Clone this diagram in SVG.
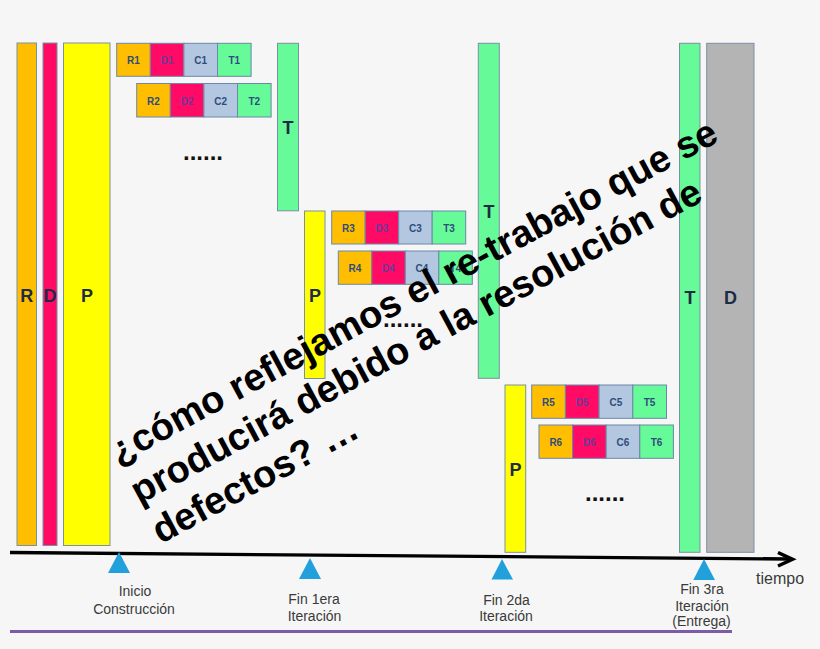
<svg xmlns="http://www.w3.org/2000/svg" width="820" height="649" viewBox="0 0 820 649">
<style>
.bar{stroke:#7b8fa6;stroke-width:1}
.cell{stroke:#6a88a8;stroke-width:1}
.r{fill:#ffbf00}.d{fill:#ff0a64}.c{fill:#b4c7e0}.t{fill:#66fb98}.p{fill:#ffff00}.g{fill:#b4b4b4}
.bl{font-family:"Liberation Sans",Arial,sans-serif;font-weight:bold;font-size:18px;fill:#1d2b45;text-anchor:middle}
.cl{font-family:"Liberation Sans",Arial,sans-serif;font-weight:bold;font-size:10px;fill:#2f4d7c;text-anchor:middle}
.cd{fill:#6b3a98}
.dots{font-family:"Liberation Sans",Arial,sans-serif;font-weight:bold;font-size:24px;fill:#111}
.lab{font-family:"Liberation Sans",Arial,sans-serif;font-size:14px;fill:#3a3a3a;text-anchor:middle}
.tri{fill:#22a0dc}
.big{font-family:"Liberation Sans",Arial,sans-serif;font-weight:bold;font-size:38px;fill:#000}
</style>
<rect width="820" height="649" fill="#f6f6f6"/>

<g id="bar-R"><rect class="bar r" x="17" y="43" width="19.5" height="502.5"/><text class="bl" x="26.8" y="302">R</text></g>
<g id="bar-D"><rect class="bar d" x="43" y="43" width="14" height="502.5"/><text class="bl" x="50" y="302">D</text></g>
<g id="bar-P"><rect class="bar p" x="63.5" y="43" width="46.5" height="502.5"/><text class="bl" x="87" y="302">P</text></g>

<g id="row1">
<rect class="cell r" x="116.7" y="43.3" width="33.6" height="33"/><rect class="cell d" x="150.3" y="43.3" width="33.6" height="33"/><rect class="cell c" x="183.9" y="43.3" width="33.6" height="33"/><rect class="cell t" x="217.5" y="43.3" width="33.6" height="33"/>
<text class="cl" x="133.5" y="64">R1</text><text class="cl cd" x="167.1" y="64">D1</text><text class="cl" x="200.7" y="64">C1</text><text class="cl" x="234.3" y="64">T1</text>
</g>
<g id="row2">
<rect class="cell r" x="136.7" y="83.5" width="33.6" height="33.5"/><rect class="cell d" x="170.3" y="83.5" width="33.6" height="33.5"/><rect class="cell c" x="203.9" y="83.5" width="33.6" height="33.5"/><rect class="cell t" x="237.5" y="83.5" width="33.6" height="33.5"/>
<text class="cl" x="153.5" y="104.5">R2</text><text class="cl cd" x="187.1" y="104.5">D2</text><text class="cl" x="220.7" y="104.5">C2</text><text class="cl" x="254.3" y="104.5">T2</text>
</g>
<text class="dots" x="183" y="160">......</text>

<g id="bar-T1"><rect class="bar t" x="277.5" y="43.3" width="21" height="167.5"/><text class="bl" x="288" y="134">T</text></g>
<g id="bar-P2"><rect class="bar p" x="304.5" y="211" width="20.5" height="167.5"/><text class="bl" x="315" y="302">P</text></g>

<g id="row3">
<rect class="cell r" x="331.7" y="211" width="33.5" height="33"/><rect class="cell d" x="365.2" y="211" width="33.5" height="33"/><rect class="cell c" x="398.7" y="211" width="33.5" height="33"/><rect class="cell t" x="432.2" y="211" width="33.5" height="33"/>
<text class="cl" x="348.5" y="231.5">R3</text><text class="cl cd" x="382" y="231.5">D3</text><text class="cl" x="415.5" y="231.5">C3</text><text class="cl" x="449" y="231.5">T3</text>
</g>
<g id="row4">
<rect class="cell r" x="338.3" y="251" width="33.5" height="33.3"/><rect class="cell d" x="371.8" y="251" width="33.5" height="33.3"/><rect class="cell c" x="405.3" y="251" width="33.5" height="33.3"/><rect class="cell t" x="438.8" y="251" width="33.5" height="33.3"/>
<text class="cl" x="355" y="271.5">R4</text><text class="cl cd" x="388.5" y="271.5">D4</text><text class="cl" x="422" y="271.5">C4</text><text class="cl" x="455.5" y="271.5">T4</text>
</g>
<text class="dots" x="383" y="327">......</text>

<g id="bar-T2"><rect class="bar t" x="478.3" y="43.3" width="21" height="335"/><text class="bl" x="489" y="218">T</text></g>
<g id="bar-P3"><rect class="bar p" x="505" y="385" width="20.7" height="167.3"/><text class="bl" x="515.5" y="476">P</text></g>

<g id="row5">
<rect class="cell r" x="531.7" y="385" width="33.7" height="33.3"/><rect class="cell d" x="565.4" y="385" width="33.7" height="33.3"/><rect class="cell c" x="599.1" y="385" width="33.7" height="33.3"/><rect class="cell t" x="632.8" y="385" width="33.7" height="33.3"/>
<text class="cl" x="548.5" y="405.5">R5</text><text class="cl cd" x="582.2" y="405.5">D5</text><text class="cl" x="615.9" y="405.5">C5</text><text class="cl" x="649.6" y="405.5">T5</text>
</g>
<g id="row6">
<rect class="cell r" x="539" y="425" width="33.6" height="33.3"/><rect class="cell d" x="572.6" y="425" width="33.6" height="33.3"/><rect class="cell c" x="606.2" y="425" width="33.6" height="33.3"/><rect class="cell t" x="639.8" y="425" width="33.6" height="33.3"/>
<text class="cl" x="555.8" y="445.5">R6</text><text class="cl cd" x="589.4" y="445.5">D6</text><text class="cl" x="623" y="445.5">C6</text><text class="cl" x="656.6" y="445.5">T6</text>
</g>
<text class="dots" x="585" y="501">......</text>

<g id="bar-T3"><rect class="bar t" x="679.5" y="43.3" width="20.5" height="509"/><text class="bl" x="690" y="304">T</text></g>
<g id="bar-D2"><rect class="bar g" x="706.7" y="43.3" width="47.3" height="509"/><text class="bl" x="730.5" y="304">D</text></g>

<g id="connectors">
<line x1="10" y1="552.5" x2="791" y2="559" stroke="#000" stroke-width="3.3"/>
<polyline points="778,552.5 792.5,559.3 778,566" fill="none" stroke="#000" stroke-width="3.5" stroke-linejoin="miter"/>
</g>

<g id="m1"><polygon class="tri" points="119,552 130,573 108,573"/><text class="lab" x="135" y="596">Inicio</text><text class="lab" x="134" y="613.5">Construcción</text></g>
<g id="m2"><polygon class="tri" points="310,558 321,579 299,579"/><text class="lab" x="314" y="604">Fin 1era</text><text class="lab" x="314.5" y="620.5">Iteración</text></g>
<g id="m3"><polygon class="tri" points="502,559 513,579.5 491.5,579.5"/><text class="lab" x="506.5" y="605">Fin 2da</text><text class="lab" x="506" y="621">Iteración</text></g>
<g id="m4"><polygon class="tri" points="704,559 715,580 693.3,580"/><text class="lab" x="702" y="594">Fin 3ra</text><text class="lab" x="702" y="610.5">Iteración</text><text class="lab" x="701.5" y="626">(Entrega)</text></g>
<text class="lab" x="756" y="583.5" style="font-size:16px;text-anchor:start">tiempo</text>

<line x1="10" y1="631.5" x2="732" y2="631.5" stroke="#7d5ba6" stroke-width="3"/>

<text class="big" transform="translate(118,465) rotate(-28.3)"><tspan x="0" y="0">¿cómo reflejamos el re-trabajo que se</tspan><tspan x="0" y="45">producirá debido a la resolución de</tspan><tspan x="0" y="90">defectos? …</tspan></text>
</svg>
